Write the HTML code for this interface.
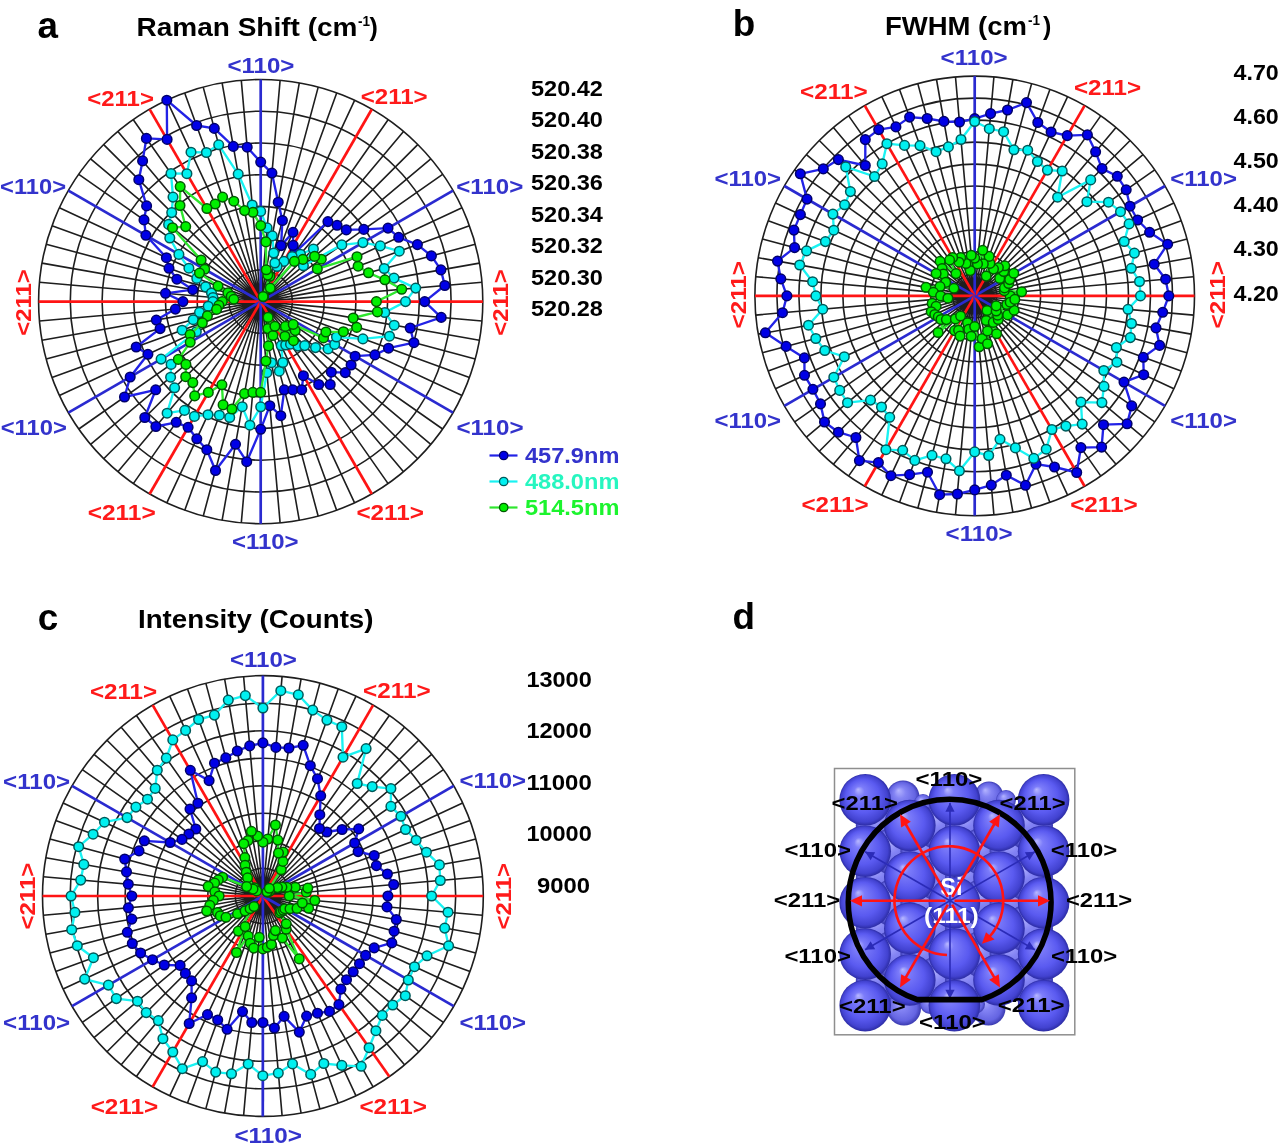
<!DOCTYPE html>
<html lang="en"><head><meta charset="utf-8"><title>Polar Raman figure</title>
<style>html,body{margin:0;padding:0;background:#fff}svg{display:block}text{font-family:'Liberation Sans', Arial, Helvetica, sans-serif;font-weight:bold}</style>
</head><body>
<svg width="1280" height="1148" viewBox="0 0 1280 1148">
<rect width="1280" height="1148" fill="#fff"/>
<g id="pa">
<g fill="none" stroke="#1e1e1e" stroke-width="1.6">
<circle cx="260.7" cy="301.6" r="31.7"/>
<circle cx="260.7" cy="301.6" r="63.5"/>
<circle cx="260.7" cy="301.6" r="95.2"/>
<circle cx="260.7" cy="301.6" r="126.9"/>
<circle cx="260.7" cy="301.6" r="158.6"/>
<circle cx="260.7" cy="301.6" r="190.4"/>
<circle cx="260.7" cy="301.6" r="222.1"/>
<path d="M260.7 301.6L482 282.3M260.7 301.6L479.4 263.1M260.7 301.6L475.2 244.2M260.7 301.6L469.4 225.7M260.7 301.6L462 207.8M260.7 301.6L442.6 174.3M260.7 301.6L430.8 158.9M260.7 301.6L417.7 144.6M260.7 301.6L403.5 131.5M260.7 301.6L388.1 119.7M260.7 301.6L354.6 100.4M260.7 301.6L336.7 92.9M260.7 301.6L318.2 87.1M260.7 301.6L299.3 82.9M260.7 301.6L280.1 80.4M260.7 301.6L241.3 80.4M260.7 301.6L222.1 82.9M260.7 301.6L203.2 87.1M260.7 301.6L184.7 92.9M260.7 301.6L166.8 100.4M260.7 301.6L133.3 119.7M260.7 301.6L117.9 131.5M260.7 301.6L103.7 144.6M260.7 301.6L90.6 158.9M260.7 301.6L78.8 174.3M260.7 301.6L59.4 207.8M260.7 301.6L52 225.7M260.7 301.6L46.2 244.2M260.7 301.6L42 263.1M260.7 301.6L39.4 282.3M260.7 301.6L39.4 321M260.7 301.6L42 340.2M260.7 301.6L46.2 359.1M260.7 301.6L52 377.6M260.7 301.6L59.4 395.5M260.7 301.6L78.8 429M260.7 301.6L90.6 444.4M260.7 301.6L103.7 458.7M260.7 301.6L117.9 471.8M260.7 301.6L133.3 483.6M260.7 301.6L166.8 502.9M260.7 301.6L184.7 510.4M260.7 301.6L203.2 516.2M260.7 301.6L222.1 520.4M260.7 301.6L241.3 522.9M260.7 301.6L280.1 522.9M260.7 301.6L299.3 520.4M260.7 301.6L318.2 516.2M260.7 301.6L336.7 510.4M260.7 301.6L354.6 502.9M260.7 301.6L388.1 483.6M260.7 301.6L403.5 471.8M260.7 301.6L417.7 458.7M260.7 301.6L430.8 444.4M260.7 301.6L442.6 429M260.7 301.6L462 395.5M260.7 301.6L469.4 377.6M260.7 301.6L475.2 359.1M260.7 301.6L479.4 340.2M260.7 301.6L482 321"/>
</g>
<line x1="260.7" y1="301.6" x2="482.8" y2="301.6" stroke="#ff1414" stroke-width="2.7"/>
<line x1="260.7" y1="301.6" x2="453" y2="190.6" stroke="#2a2ad0" stroke-width="2.7"/>
<line x1="260.7" y1="301.6" x2="371.8" y2="109.3" stroke="#ff1414" stroke-width="2.7"/>
<line x1="260.7" y1="301.6" x2="260.7" y2="79.5" stroke="#2a2ad0" stroke-width="2.7"/>
<line x1="260.7" y1="301.6" x2="149.7" y2="109.3" stroke="#ff1414" stroke-width="2.7"/>
<line x1="260.7" y1="301.6" x2="68.4" y2="190.6" stroke="#2a2ad0" stroke-width="2.7"/>
<line x1="260.7" y1="301.6" x2="38.6" y2="301.6" stroke="#ff1414" stroke-width="2.7"/>
<line x1="260.7" y1="301.6" x2="68.4" y2="412.7" stroke="#2a2ad0" stroke-width="2.7"/>
<line x1="260.7" y1="301.6" x2="149.6" y2="494" stroke="#ff1414" stroke-width="2.7"/>
<line x1="260.7" y1="301.6" x2="260.7" y2="523.8" stroke="#2a2ad0" stroke-width="2.7"/>
<line x1="260.7" y1="301.6" x2="371.8" y2="494" stroke="#ff1414" stroke-width="2.7"/>
<line x1="260.7" y1="301.6" x2="453" y2="412.7" stroke="#2a2ad0" stroke-width="2.7"/>
<path d="M424.7 301.6L444.8 285.5L440.9 269.9L431.4 255.9L417.4 244.6L398.7 237.3L388 228.1L363.8 229.4L346.3 229.9L337.1 225.3L327.9 221.6L295.1 252.5L293.2 245.4L293 232.3L281.1 245.6L282.4 220.5L278.2 202.2L271.9 173.1L260.7 162.1L247.2 147.2L233.3 146.4L214.3 128.4L196.6 125.5L166.8 100.2L167.1 139.4L146.4 138.4L142.6 160.9L138.8 179.7L146.6 205.9L144 219.9L145.9 235.3L166.4 257.7L169 268.3L176.9 279.2L192.8 289.7L165.5 293.3L182.9 301.6L175.4 309.1L156.3 320.1L160.1 328.6L136.2 347L147.9 354.3L130.2 377L124.5 397L155.7 389.8L144.8 417.5L155.9 426.5L176.2 422.3L188.1 427.3L196.8 438.8L206.8 449.7L215.5 470.5L235.5 444.3L246.7 461.7L260.7 429.3L269.8 405.7L280.8 415.7L284.3 389.8L292.8 389.9L301.7 389.7L303.4 375.7L318.7 384.5L330.2 384.5L331.3 372.2L345.3 372.6L351.1 365L355.1 356.2L374.9 354.9L388.5 348.2L413.9 342.7L410.2 328L441.2 317.4Z" fill="none" stroke="#2222e6" stroke-width="2.35" stroke-linejoin="round"/>
<g fill="#0000e6" stroke="#00006a" stroke-width="1.5">
<circle cx="424.7" cy="301.6" r="4.8"/>
<circle cx="444.8" cy="285.5" r="4.8"/>
<circle cx="440.9" cy="269.9" r="4.8"/>
<circle cx="431.4" cy="255.9" r="4.8"/>
<circle cx="417.4" cy="244.6" r="4.8"/>
<circle cx="398.7" cy="237.3" r="4.8"/>
<circle cx="388" cy="228.1" r="4.8"/>
<circle cx="363.8" cy="229.4" r="4.8"/>
<circle cx="346.3" cy="229.9" r="4.8"/>
<circle cx="337.1" cy="225.3" r="4.8"/>
<circle cx="327.9" cy="221.6" r="4.8"/>
<circle cx="295.1" cy="252.5" r="4.8"/>
<circle cx="293.2" cy="245.4" r="4.8"/>
<circle cx="293" cy="232.3" r="4.8"/>
<circle cx="281.1" cy="245.6" r="4.8"/>
<circle cx="282.4" cy="220.5" r="4.8"/>
<circle cx="278.2" cy="202.2" r="4.8"/>
<circle cx="271.9" cy="173.1" r="4.8"/>
<circle cx="260.7" cy="162.1" r="4.8"/>
<circle cx="247.2" cy="147.2" r="4.8"/>
<circle cx="233.3" cy="146.4" r="4.8"/>
<circle cx="214.3" cy="128.4" r="4.8"/>
<circle cx="196.6" cy="125.5" r="4.8"/>
<circle cx="166.8" cy="100.2" r="4.8"/>
<circle cx="167.1" cy="139.4" r="4.8"/>
<circle cx="146.4" cy="138.4" r="4.8"/>
<circle cx="142.6" cy="160.9" r="4.8"/>
<circle cx="138.8" cy="179.7" r="4.8"/>
<circle cx="146.6" cy="205.9" r="4.8"/>
<circle cx="144" cy="219.9" r="4.8"/>
<circle cx="145.9" cy="235.3" r="4.8"/>
<circle cx="166.4" cy="257.7" r="4.8"/>
<circle cx="169" cy="268.3" r="4.8"/>
<circle cx="176.9" cy="279.2" r="4.8"/>
<circle cx="192.8" cy="289.7" r="4.8"/>
<circle cx="165.5" cy="293.3" r="4.8"/>
<circle cx="182.9" cy="301.6" r="4.8"/>
<circle cx="175.4" cy="309.1" r="4.8"/>
<circle cx="156.3" cy="320.1" r="4.8"/>
<circle cx="160.1" cy="328.6" r="4.8"/>
<circle cx="136.2" cy="347" r="4.8"/>
<circle cx="147.9" cy="354.3" r="4.8"/>
<circle cx="130.2" cy="377" r="4.8"/>
<circle cx="124.5" cy="397" r="4.8"/>
<circle cx="155.7" cy="389.8" r="4.8"/>
<circle cx="144.8" cy="417.5" r="4.8"/>
<circle cx="155.9" cy="426.5" r="4.8"/>
<circle cx="176.2" cy="422.3" r="4.8"/>
<circle cx="188.1" cy="427.3" r="4.8"/>
<circle cx="196.8" cy="438.8" r="4.8"/>
<circle cx="206.8" cy="449.7" r="4.8"/>
<circle cx="215.5" cy="470.5" r="4.8"/>
<circle cx="235.5" cy="444.3" r="4.8"/>
<circle cx="246.7" cy="461.7" r="4.8"/>
<circle cx="260.7" cy="429.3" r="4.8"/>
<circle cx="269.8" cy="405.7" r="4.8"/>
<circle cx="280.8" cy="415.7" r="4.8"/>
<circle cx="284.3" cy="389.8" r="4.8"/>
<circle cx="292.8" cy="389.9" r="4.8"/>
<circle cx="301.7" cy="389.7" r="4.8"/>
<circle cx="303.4" cy="375.7" r="4.8"/>
<circle cx="318.7" cy="384.5" r="4.8"/>
<circle cx="330.2" cy="384.5" r="4.8"/>
<circle cx="331.3" cy="372.2" r="4.8"/>
<circle cx="345.3" cy="372.6" r="4.8"/>
<circle cx="351.1" cy="365" r="4.8"/>
<circle cx="355.1" cy="356.2" r="4.8"/>
<circle cx="374.9" cy="354.9" r="4.8"/>
<circle cx="388.5" cy="348.2" r="4.8"/>
<circle cx="413.9" cy="342.7" r="4.8"/>
<circle cx="410.2" cy="328" r="4.8"/>
<circle cx="441.2" cy="317.4" r="4.8"/>
</g>
<path d="M405.5 301.6L415.7 288.1L394 278.1L384.2 268.5L399.3 251.2L380.3 245.9L362.9 242.6L341.8 244.9L303.4 265.8L313.4 249L300.5 254.2L292.2 256.6L283.9 261.4L277.1 266.5L274.8 263L273.7 253L272.3 235.9L267.1 227.9L260.7 211.4L252.2 205L238.2 174.1L218.7 144.8L206.4 152.5L191 152.2L186.9 173.7L171 173.5L173 197.1L171.7 212.6L168.6 224.4L169.8 238L178.9 254.4L188.9 268.2L196.8 278.4L205.6 286.9L211.5 293L213 297.5L212.9 301.6L208.2 306.2L199.5 312.4L193.2 319.7L182.1 330.2L196.3 331.7L161.1 359.1L171.1 364.4L170.6 377.2L174.6 387.8L167.1 413.2L184.5 410.4L194.4 416.4L208 414.7L219.4 415.2L229.7 417.5L242.2 406.7L249.9 425.2L260.7 406.8L266.9 372.7L271.5 362.7L279.3 371.2L282.9 362.5L281.2 345.6L285.7 345L290.5 344.2L298 346.1L304.7 345.6L315.5 347.6L328.1 348.9L334.7 344.4L336.5 337L362.9 338.9L389.5 336.2L394.2 325.2L384.8 312.5Z" fill="none" stroke="#19f2f2" stroke-width="2.35" stroke-linejoin="round"/>
<g fill="#00f0f0" stroke="#005a5a" stroke-width="1.5">
<circle cx="405.5" cy="301.6" r="4.8"/>
<circle cx="415.7" cy="288.1" r="4.8"/>
<circle cx="394" cy="278.1" r="4.8"/>
<circle cx="384.2" cy="268.5" r="4.8"/>
<circle cx="399.3" cy="251.2" r="4.8"/>
<circle cx="380.3" cy="245.9" r="4.8"/>
<circle cx="362.9" cy="242.6" r="4.8"/>
<circle cx="341.8" cy="244.9" r="4.8"/>
<circle cx="303.4" cy="265.8" r="4.8"/>
<circle cx="313.4" cy="249" r="4.8"/>
<circle cx="300.5" cy="254.2" r="4.8"/>
<circle cx="292.2" cy="256.6" r="4.8"/>
<circle cx="283.9" cy="261.4" r="4.8"/>
<circle cx="277.1" cy="266.5" r="4.8"/>
<circle cx="274.8" cy="263" r="4.8"/>
<circle cx="273.7" cy="253" r="4.8"/>
<circle cx="272.3" cy="235.9" r="4.8"/>
<circle cx="267.1" cy="227.9" r="4.8"/>
<circle cx="260.7" cy="211.4" r="4.8"/>
<circle cx="252.2" cy="205" r="4.8"/>
<circle cx="238.2" cy="174.1" r="4.8"/>
<circle cx="218.7" cy="144.8" r="4.8"/>
<circle cx="206.4" cy="152.5" r="4.8"/>
<circle cx="191" cy="152.2" r="4.8"/>
<circle cx="186.9" cy="173.7" r="4.8"/>
<circle cx="171" cy="173.5" r="4.8"/>
<circle cx="173" cy="197.1" r="4.8"/>
<circle cx="171.7" cy="212.6" r="4.8"/>
<circle cx="168.6" cy="224.4" r="4.8"/>
<circle cx="169.8" cy="238" r="4.8"/>
<circle cx="178.9" cy="254.4" r="4.8"/>
<circle cx="188.9" cy="268.2" r="4.8"/>
<circle cx="196.8" cy="278.4" r="4.8"/>
<circle cx="205.6" cy="286.9" r="4.8"/>
<circle cx="211.5" cy="293" r="4.8"/>
<circle cx="213" cy="297.5" r="4.8"/>
<circle cx="212.9" cy="301.6" r="4.8"/>
<circle cx="208.2" cy="306.2" r="4.8"/>
<circle cx="199.5" cy="312.4" r="4.8"/>
<circle cx="193.2" cy="319.7" r="4.8"/>
<circle cx="182.1" cy="330.2" r="4.8"/>
<circle cx="196.3" cy="331.7" r="4.8"/>
<circle cx="161.1" cy="359.1" r="4.8"/>
<circle cx="171.1" cy="364.4" r="4.8"/>
<circle cx="170.6" cy="377.2" r="4.8"/>
<circle cx="174.6" cy="387.8" r="4.8"/>
<circle cx="167.1" cy="413.2" r="4.8"/>
<circle cx="184.5" cy="410.4" r="4.8"/>
<circle cx="194.4" cy="416.4" r="4.8"/>
<circle cx="208" cy="414.7" r="4.8"/>
<circle cx="219.4" cy="415.2" r="4.8"/>
<circle cx="229.7" cy="417.5" r="4.8"/>
<circle cx="242.2" cy="406.7" r="4.8"/>
<circle cx="249.9" cy="425.2" r="4.8"/>
<circle cx="260.7" cy="406.8" r="4.8"/>
<circle cx="266.9" cy="372.7" r="4.8"/>
<circle cx="271.5" cy="362.7" r="4.8"/>
<circle cx="279.3" cy="371.2" r="4.8"/>
<circle cx="282.9" cy="362.5" r="4.8"/>
<circle cx="281.2" cy="345.6" r="4.8"/>
<circle cx="285.7" cy="345" r="4.8"/>
<circle cx="290.5" cy="344.2" r="4.8"/>
<circle cx="298" cy="346.1" r="4.8"/>
<circle cx="304.7" cy="345.6" r="4.8"/>
<circle cx="315.5" cy="347.6" r="4.8"/>
<circle cx="328.1" cy="348.9" r="4.8"/>
<circle cx="334.7" cy="344.4" r="4.8"/>
<circle cx="336.5" cy="337" r="4.8"/>
<circle cx="362.9" cy="338.9" r="4.8"/>
<circle cx="389.5" cy="336.2" r="4.8"/>
<circle cx="394.2" cy="325.2" r="4.8"/>
<circle cx="384.8" cy="312.5" r="4.8"/>
</g>
<path d="M376.4 301.6L401.7 289.3L384.9 279.8L368.5 272.8L358.1 266.2L357 256.7L317.3 268.9L321.3 259.2L314.6 256.4L302.9 259.4L294.4 261.4L270.2 288.1L263.6 296.7L263.1 296.5L269.9 276.3L267.8 275.1L266.3 269.8L265.9 241.9L260.7 225.6L252.9 212.3L244.6 210.6L233.8 201.2L222.6 197.1L215.2 204L206.9 208.5L180.2 186.6L180 205.5L185.7 226.6L172.5 227.7L201.1 260L204.7 269.3L199.5 273.1L218 286.1L227.9 292.9L231.2 296.4L233.8 299.3L222.3 301.6L218.9 305.3L216.6 309.4L207.4 315.9L202.3 322.9L190.1 334.6L190.2 342.3L178.3 359.4L185.9 364.4L185.7 376.7L192.8 382.6L194.7 395.9L208.3 392.4L221.9 384.8L223.1 404.9L231.9 409L244.5 393.6L252.8 392.4L260.7 392.4L265.9 361.1L268.5 345.9L267.9 328.6L273 335.5L268.1 317.4L274.9 326.3L284.9 336.2L293.5 340.7L285.4 326.4L295.2 330.6L293.2 324.4L323.5 337.9L325.9 332L343.4 331.7L356.7 327.4L353.2 318L377.4 311.9Z" fill="none" stroke="#2ee62e" stroke-width="2.35" stroke-linejoin="round"/>
<g fill="#00f000" stroke="#005a00" stroke-width="1.5">
<circle cx="376.4" cy="301.6" r="4.8"/>
<circle cx="401.7" cy="289.3" r="4.8"/>
<circle cx="384.9" cy="279.8" r="4.8"/>
<circle cx="368.5" cy="272.8" r="4.8"/>
<circle cx="358.1" cy="266.2" r="4.8"/>
<circle cx="357" cy="256.7" r="4.8"/>
<circle cx="317.3" cy="268.9" r="4.8"/>
<circle cx="321.3" cy="259.2" r="4.8"/>
<circle cx="314.6" cy="256.4" r="4.8"/>
<circle cx="302.9" cy="259.4" r="4.8"/>
<circle cx="294.4" cy="261.4" r="4.8"/>
<circle cx="270.2" cy="288.1" r="4.8"/>
<circle cx="263.6" cy="296.7" r="4.8"/>
<circle cx="263.1" cy="296.5" r="4.8"/>
<circle cx="269.9" cy="276.3" r="4.8"/>
<circle cx="267.8" cy="275.1" r="4.8"/>
<circle cx="266.3" cy="269.8" r="4.8"/>
<circle cx="265.9" cy="241.9" r="4.8"/>
<circle cx="260.7" cy="225.6" r="4.8"/>
<circle cx="252.9" cy="212.3" r="4.8"/>
<circle cx="244.6" cy="210.6" r="4.8"/>
<circle cx="233.8" cy="201.2" r="4.8"/>
<circle cx="222.6" cy="197.1" r="4.8"/>
<circle cx="215.2" cy="204" r="4.8"/>
<circle cx="206.9" cy="208.5" r="4.8"/>
<circle cx="180.2" cy="186.6" r="4.8"/>
<circle cx="180" cy="205.5" r="4.8"/>
<circle cx="185.7" cy="226.6" r="4.8"/>
<circle cx="172.5" cy="227.7" r="4.8"/>
<circle cx="201.1" cy="260" r="4.8"/>
<circle cx="204.7" cy="269.3" r="4.8"/>
<circle cx="199.5" cy="273.1" r="4.8"/>
<circle cx="218" cy="286.1" r="4.8"/>
<circle cx="227.9" cy="292.9" r="4.8"/>
<circle cx="231.2" cy="296.4" r="4.8"/>
<circle cx="233.8" cy="299.3" r="4.8"/>
<circle cx="222.3" cy="301.6" r="4.8"/>
<circle cx="218.9" cy="305.3" r="4.8"/>
<circle cx="216.6" cy="309.4" r="4.8"/>
<circle cx="207.4" cy="315.9" r="4.8"/>
<circle cx="202.3" cy="322.9" r="4.8"/>
<circle cx="190.1" cy="334.6" r="4.8"/>
<circle cx="190.2" cy="342.3" r="4.8"/>
<circle cx="178.3" cy="359.4" r="4.8"/>
<circle cx="185.9" cy="364.4" r="4.8"/>
<circle cx="185.7" cy="376.7" r="4.8"/>
<circle cx="192.8" cy="382.6" r="4.8"/>
<circle cx="194.7" cy="395.9" r="4.8"/>
<circle cx="208.3" cy="392.4" r="4.8"/>
<circle cx="221.9" cy="384.8" r="4.8"/>
<circle cx="223.1" cy="404.9" r="4.8"/>
<circle cx="231.9" cy="409" r="4.8"/>
<circle cx="244.5" cy="393.6" r="4.8"/>
<circle cx="252.8" cy="392.4" r="4.8"/>
<circle cx="260.7" cy="392.4" r="4.8"/>
<circle cx="265.9" cy="361.1" r="4.8"/>
<circle cx="268.5" cy="345.9" r="4.8"/>
<circle cx="267.9" cy="328.6" r="4.8"/>
<circle cx="273" cy="335.5" r="4.8"/>
<circle cx="268.1" cy="317.4" r="4.8"/>
<circle cx="274.9" cy="326.3" r="4.8"/>
<circle cx="284.9" cy="336.2" r="4.8"/>
<circle cx="293.5" cy="340.7" r="4.8"/>
<circle cx="285.4" cy="326.4" r="4.8"/>
<circle cx="295.2" cy="330.6" r="4.8"/>
<circle cx="293.2" cy="324.4" r="4.8"/>
<circle cx="323.5" cy="337.9" r="4.8"/>
<circle cx="325.9" cy="332" r="4.8"/>
<circle cx="343.4" cy="331.7" r="4.8"/>
<circle cx="356.7" cy="327.4" r="4.8"/>
<circle cx="353.2" cy="318" r="4.8"/>
<circle cx="377.4" cy="311.9" r="4.8"/>
</g>
</g>
<text x="37.6" y="38" font-size="36.8" fill="#000">a</text>
<text x="136.5" y="35.6" font-size="25" fill="#000" textLength="221" lengthAdjust="spacingAndGlyphs">Raman Shift (cm</text>
<text x="358" y="26.1" font-size="15" fill="#000" textLength="12" lengthAdjust="spacingAndGlyphs">-1</text>
<text x="369.5" y="35.6" font-size="25" fill="#000">)</text>
<text x="227.5" y="72.5" font-size="22.5" fill="#3333cc" textLength="66.9" lengthAdjust="spacingAndGlyphs">&lt;110&gt;</text>
<text x="87.3" y="105.5" font-size="22.5" fill="#ff1a1a" textLength="66.6" lengthAdjust="spacingAndGlyphs">&lt;211&gt;</text>
<text x="360.7" y="103.6" font-size="22.5" fill="#ff1a1a" textLength="67" lengthAdjust="spacingAndGlyphs">&lt;211&gt;</text>
<text x="0.1" y="193.5" font-size="22.5" fill="#3333cc" textLength="65.9" lengthAdjust="spacingAndGlyphs">&lt;110&gt;</text>
<text x="456.3" y="193.5" font-size="22.5" fill="#3333cc" textLength="67" lengthAdjust="spacingAndGlyphs">&lt;110&gt;</text>
<text x="31.2" y="335.8" font-size="22.5" fill="#ff1a1a" textLength="66.6" lengthAdjust="spacingAndGlyphs" transform="rotate(-90 31.2 335.8)">&lt;211&gt;</text>
<text x="508.2" y="335.8" font-size="22.5" fill="#ff1a1a" textLength="66.6" lengthAdjust="spacingAndGlyphs" transform="rotate(-90 508.2 335.8)">&lt;211&gt;</text>
<text x="0.7" y="435" font-size="22.5" fill="#3333cc" textLength="66.2" lengthAdjust="spacingAndGlyphs">&lt;110&gt;</text>
<text x="456.4" y="435" font-size="22.5" fill="#3333cc" textLength="67.2" lengthAdjust="spacingAndGlyphs">&lt;110&gt;</text>
<text x="87.7" y="520" font-size="22.5" fill="#ff1a1a" textLength="68" lengthAdjust="spacingAndGlyphs">&lt;211&gt;</text>
<text x="356.4" y="520" font-size="22.5" fill="#ff1a1a" textLength="67.5" lengthAdjust="spacingAndGlyphs">&lt;211&gt;</text>
<text x="231.9" y="548.5" font-size="22.5" fill="#3333cc" textLength="66.7" lengthAdjust="spacingAndGlyphs">&lt;110&gt;</text>
<text x="531" y="96" font-size="22.5" fill="#000" textLength="71.9" lengthAdjust="spacingAndGlyphs">520.42</text>
<text x="531" y="127.4" font-size="22.5" fill="#000" textLength="71.9" lengthAdjust="spacingAndGlyphs">520.40</text>
<text x="531" y="158.9" font-size="22.5" fill="#000" textLength="71.9" lengthAdjust="spacingAndGlyphs">520.38</text>
<text x="531" y="190.3" font-size="22.5" fill="#000" textLength="71.9" lengthAdjust="spacingAndGlyphs">520.36</text>
<text x="531" y="221.7" font-size="22.5" fill="#000" textLength="71.9" lengthAdjust="spacingAndGlyphs">520.34</text>
<text x="531" y="253.2" font-size="22.5" fill="#000" textLength="71.9" lengthAdjust="spacingAndGlyphs">520.32</text>
<text x="531" y="284.6" font-size="22.5" fill="#000" textLength="71.9" lengthAdjust="spacingAndGlyphs">520.30</text>
<text x="531" y="316" font-size="22.5" fill="#000" textLength="71.9" lengthAdjust="spacingAndGlyphs">520.28</text>
<line x1="489.5" y1="455.5" x2="517.5" y2="455.5" stroke="#2222e6" stroke-width="2.2"/>
<circle cx="503.7" cy="455.5" r="4.2" fill="#0000e6" stroke="#00006a" stroke-width="1.3"/>
<text x="524.9" y="462.8" font-size="22.5" fill="#3333cc" textLength="94.5" lengthAdjust="spacingAndGlyphs">457.9nm</text>
<line x1="489.5" y1="481.5" x2="517.5" y2="481.5" stroke="#19f2f2" stroke-width="2.2"/>
<circle cx="503.7" cy="481.5" r="4.2" fill="#00f0f0" stroke="#005a5a" stroke-width="1.3"/>
<text x="524.9" y="488.7" font-size="22.5" fill="#26f6c0" textLength="94.5" lengthAdjust="spacingAndGlyphs">488.0nm</text>
<line x1="489.5" y1="507.5" x2="517.5" y2="507.5" stroke="#2ee62e" stroke-width="2.2"/>
<circle cx="503.7" cy="507.5" r="4.2" fill="#00f000" stroke="#005a00" stroke-width="1.3"/>
<text x="524.9" y="514.5" font-size="22.5" fill="#1cf42e" textLength="94.5" lengthAdjust="spacingAndGlyphs">514.5nm</text>
<g id="pb">
<g fill="none" stroke="#1e1e1e" stroke-width="1.6">
<circle cx="974.7" cy="295.9" r="22"/>
<circle cx="974.7" cy="295.9" r="44"/>
<circle cx="974.7" cy="295.9" r="65.9"/>
<circle cx="974.7" cy="295.9" r="87.9"/>
<circle cx="974.7" cy="295.9" r="109.9"/>
<circle cx="974.7" cy="295.9" r="131.8"/>
<circle cx="974.7" cy="295.9" r="153.8"/>
<circle cx="974.7" cy="295.9" r="175.8"/>
<circle cx="974.7" cy="295.9" r="197.8"/>
<circle cx="974.7" cy="295.9" r="219.8"/>
<path d="M974.7 295.9L1193.6 276.7M974.7 295.9L1191.1 257.7M974.7 295.9L1187 239M974.7 295.9L1181.2 220.7M974.7 295.9L1173.9 203M974.7 295.9L1154.7 169.9M974.7 295.9L1143 154.6M974.7 295.9L1130.1 140.5M974.7 295.9L1116 127.6M974.7 295.9L1100.7 115.9M974.7 295.9L1067.6 96.7M974.7 295.9L1049.9 89.4M974.7 295.9L1031.6 83.6M974.7 295.9L1012.9 79.5M974.7 295.9L993.9 77M974.7 295.9L955.5 77M974.7 295.9L936.5 79.5M974.7 295.9L917.8 83.6M974.7 295.9L899.5 89.4M974.7 295.9L881.8 96.7M974.7 295.9L848.7 115.9M974.7 295.9L833.4 127.6M974.7 295.9L819.3 140.5M974.7 295.9L806.4 154.6M974.7 295.9L794.7 169.9M974.7 295.9L775.5 203M974.7 295.9L768.2 220.7M974.7 295.9L762.4 239M974.7 295.9L758.3 257.7M974.7 295.9L755.8 276.7M974.7 295.9L755.8 315.1M974.7 295.9L758.3 334.1M974.7 295.9L762.4 352.8M974.7 295.9L768.2 371.1M974.7 295.9L775.5 388.8M974.7 295.9L794.7 421.9M974.7 295.9L806.4 437.2M974.7 295.9L819.3 451.3M974.7 295.9L833.4 464.2M974.7 295.9L848.7 475.9M974.7 295.9L881.8 495.1M974.7 295.9L899.5 502.4M974.7 295.9L917.8 508.2M974.7 295.9L936.5 512.3M974.7 295.9L955.5 514.8M974.7 295.9L993.9 514.8M974.7 295.9L1012.9 512.3M974.7 295.9L1031.6 508.2M974.7 295.9L1049.9 502.4M974.7 295.9L1067.6 495.1M974.7 295.9L1100.7 475.9M974.7 295.9L1116 464.2M974.7 295.9L1130.1 451.3M974.7 295.9L1143 437.2M974.7 295.9L1154.7 421.9M974.7 295.9L1173.9 388.8M974.7 295.9L1181.2 371.1M974.7 295.9L1187 352.8M974.7 295.9L1191.1 334.1M974.7 295.9L1193.6 315.1"/>
</g>
<line x1="974.7" y1="295.9" x2="1194.5" y2="295.9" stroke="#ff1414" stroke-width="2.7"/>
<line x1="974.7" y1="295.9" x2="1165" y2="186" stroke="#2a2ad0" stroke-width="2.7"/>
<line x1="974.7" y1="295.9" x2="1084.6" y2="105.6" stroke="#ff1414" stroke-width="2.7"/>
<line x1="974.7" y1="295.9" x2="974.7" y2="76.1" stroke="#2a2ad0" stroke-width="2.7"/>
<line x1="974.7" y1="295.9" x2="864.8" y2="105.6" stroke="#ff1414" stroke-width="2.7"/>
<line x1="974.7" y1="295.9" x2="784.4" y2="186" stroke="#2a2ad0" stroke-width="2.7"/>
<line x1="974.7" y1="295.9" x2="755" y2="295.9" stroke="#ff1414" stroke-width="2.7"/>
<line x1="974.7" y1="295.9" x2="784.4" y2="405.8" stroke="#2a2ad0" stroke-width="2.7"/>
<line x1="974.7" y1="295.9" x2="864.8" y2="486.2" stroke="#ff1414" stroke-width="2.7"/>
<line x1="974.7" y1="295.9" x2="974.7" y2="515.6" stroke="#2a2ad0" stroke-width="2.7"/>
<line x1="974.7" y1="295.9" x2="1084.6" y2="486.2" stroke="#ff1414" stroke-width="2.7"/>
<line x1="974.7" y1="295.9" x2="1165" y2="405.8" stroke="#2a2ad0" stroke-width="2.7"/>
<path d="M1168.8 295.9L1165.6 279.2L1154.2 264.2L1167.6 244.2L1149.6 232.3L1137.6 220L1130 206.2L1126.2 189.8L1117.3 176.3L1102 168.6L1095.6 151.8L1087.4 134.9L1067.2 135.6L1051.1 132L1037.8 122.5L1026.5 102.6L1007.5 110L990.6 113.6L974.7 118.6L959.5 122L943.9 121.4L927.2 118.5L909.6 117.1L895.9 126.9L878.7 129.6L865.3 139.6L865.3 165.5L838.4 159.6L823.3 168.9L800.3 173.8L807 199.1L800.4 214.6L793.9 230.1L794.6 247.6L777.5 261.1L780.8 278.9L786.9 295.9L782.5 312.7L765.4 332.8L786.1 346.4L804.4 357.9L804.5 375.3L812.9 389.3L820.5 403.9L824.5 422L838.4 432.2L855.9 437.5L859.4 460.6L878.4 462.6L890.9 475.7L909.6 474.6L927.5 472.2L939.6 494.7L957.4 494L974.7 489.9L991.3 485.1L1006.3 475.2L1025.5 485.3L1036 464.2L1054.5 467L1076.7 472.5L1080.9 447.6L1101.6 447.1L1103.5 424.7L1127.1 423.8L1131.7 405.9L1124 382.1L1143.7 374.7L1143.3 357.3L1159.6 345.4L1156 327.9L1162.7 312.3Z" fill="none" stroke="#2222e6" stroke-width="2.35" stroke-linejoin="round"/>
<g fill="#0000e6" stroke="#00006a" stroke-width="1.5">
<circle cx="1168.8" cy="295.9" r="4.8"/>
<circle cx="1165.6" cy="279.2" r="4.8"/>
<circle cx="1154.2" cy="264.2" r="4.8"/>
<circle cx="1167.6" cy="244.2" r="4.8"/>
<circle cx="1149.6" cy="232.3" r="4.8"/>
<circle cx="1137.6" cy="220" r="4.8"/>
<circle cx="1130" cy="206.2" r="4.8"/>
<circle cx="1126.2" cy="189.8" r="4.8"/>
<circle cx="1117.3" cy="176.3" r="4.8"/>
<circle cx="1102" cy="168.6" r="4.8"/>
<circle cx="1095.6" cy="151.8" r="4.8"/>
<circle cx="1087.4" cy="134.9" r="4.8"/>
<circle cx="1067.2" cy="135.6" r="4.8"/>
<circle cx="1051.1" cy="132" r="4.8"/>
<circle cx="1037.8" cy="122.5" r="4.8"/>
<circle cx="1026.5" cy="102.6" r="4.8"/>
<circle cx="1007.5" cy="110" r="4.8"/>
<circle cx="990.6" cy="113.6" r="4.8"/>
<circle cx="974.7" cy="118.6" r="4.8"/>
<circle cx="959.5" cy="122" r="4.8"/>
<circle cx="943.9" cy="121.4" r="4.8"/>
<circle cx="927.2" cy="118.5" r="4.8"/>
<circle cx="909.6" cy="117.1" r="4.8"/>
<circle cx="895.9" cy="126.9" r="4.8"/>
<circle cx="878.7" cy="129.6" r="4.8"/>
<circle cx="865.3" cy="139.6" r="4.8"/>
<circle cx="865.3" cy="165.5" r="4.8"/>
<circle cx="838.4" cy="159.6" r="4.8"/>
<circle cx="823.3" cy="168.9" r="4.8"/>
<circle cx="800.3" cy="173.8" r="4.8"/>
<circle cx="807" cy="199.1" r="4.8"/>
<circle cx="800.4" cy="214.6" r="4.8"/>
<circle cx="793.9" cy="230.1" r="4.8"/>
<circle cx="794.6" cy="247.6" r="4.8"/>
<circle cx="777.5" cy="261.1" r="4.8"/>
<circle cx="780.8" cy="278.9" r="4.8"/>
<circle cx="786.9" cy="295.9" r="4.8"/>
<circle cx="782.5" cy="312.7" r="4.8"/>
<circle cx="765.4" cy="332.8" r="4.8"/>
<circle cx="786.1" cy="346.4" r="4.8"/>
<circle cx="804.4" cy="357.9" r="4.8"/>
<circle cx="804.5" cy="375.3" r="4.8"/>
<circle cx="812.9" cy="389.3" r="4.8"/>
<circle cx="820.5" cy="403.9" r="4.8"/>
<circle cx="824.5" cy="422" r="4.8"/>
<circle cx="838.4" cy="432.2" r="4.8"/>
<circle cx="855.9" cy="437.5" r="4.8"/>
<circle cx="859.4" cy="460.6" r="4.8"/>
<circle cx="878.4" cy="462.6" r="4.8"/>
<circle cx="890.9" cy="475.7" r="4.8"/>
<circle cx="909.6" cy="474.6" r="4.8"/>
<circle cx="927.5" cy="472.2" r="4.8"/>
<circle cx="939.6" cy="494.7" r="4.8"/>
<circle cx="957.4" cy="494" r="4.8"/>
<circle cx="974.7" cy="489.9" r="4.8"/>
<circle cx="991.3" cy="485.1" r="4.8"/>
<circle cx="1006.3" cy="475.2" r="4.8"/>
<circle cx="1025.5" cy="485.3" r="4.8"/>
<circle cx="1036" cy="464.2" r="4.8"/>
<circle cx="1054.5" cy="467" r="4.8"/>
<circle cx="1076.7" cy="472.5" r="4.8"/>
<circle cx="1080.9" cy="447.6" r="4.8"/>
<circle cx="1101.6" cy="447.1" r="4.8"/>
<circle cx="1103.5" cy="424.7" r="4.8"/>
<circle cx="1127.1" cy="423.8" r="4.8"/>
<circle cx="1131.7" cy="405.9" r="4.8"/>
<circle cx="1124" cy="382.1" r="4.8"/>
<circle cx="1143.7" cy="374.7" r="4.8"/>
<circle cx="1143.3" cy="357.3" r="4.8"/>
<circle cx="1159.6" cy="345.4" r="4.8"/>
<circle cx="1156" cy="327.9" r="4.8"/>
<circle cx="1162.7" cy="312.3" r="4.8"/>
</g>
<path d="M1140.5 295.9L1139.5 281.5L1131.3 268.3L1134.4 253.1L1124.2 241.5L1129.1 223.9L1120.5 211.7L1108.5 202.2L1086.9 201.7L1090.7 179.9L1057.6 197.2L1062.2 171L1047.4 170.1L1037.4 161.5L1027.7 150.2L1013.9 149.8L1003.6 131.7L989.3 128.7L974.7 121.5L961 139.5L948.4 146.9L936.1 151.7L920 145.6L904.5 145.4L886.9 143.7L882.2 163.9L874.5 176.5L845.7 166.9L850.4 191.6L844.6 204.8L832.9 214.1L833.8 230.2L825.4 241.6L806.6 250.9L799.7 265L812.6 281.7L815.9 295.9L822.7 309.2L808.5 325.2L815.8 338.5L824.8 350.5L844.3 356.7L833.8 377.2L839.7 390.4L847.5 402.7L870.5 400.1L881.5 407L889.7 417.3L885.9 449.7L902.7 450.3L914.8 460.4L932 455.3L946 458.8L959.4 470.8L974.7 451.9L988.7 455.5L1000 439.3L1015.4 447.9L1033.8 458.4L1046.2 449.2L1051.9 429.5L1065.9 426.1L1082.2 424.1L1080.9 402.1L1101.9 402.6L1104 386.4L1103.8 370.5L1116.9 362.2L1116.4 347.5L1130.3 337.6L1131.5 323.5L1128 309.3Z" fill="none" stroke="#19f2f2" stroke-width="2.35" stroke-linejoin="round"/>
<g fill="#00f0f0" stroke="#005a5a" stroke-width="1.5">
<circle cx="1140.5" cy="295.9" r="4.8"/>
<circle cx="1139.5" cy="281.5" r="4.8"/>
<circle cx="1131.3" cy="268.3" r="4.8"/>
<circle cx="1134.4" cy="253.1" r="4.8"/>
<circle cx="1124.2" cy="241.5" r="4.8"/>
<circle cx="1129.1" cy="223.9" r="4.8"/>
<circle cx="1120.5" cy="211.7" r="4.8"/>
<circle cx="1108.5" cy="202.2" r="4.8"/>
<circle cx="1086.9" cy="201.7" r="4.8"/>
<circle cx="1090.7" cy="179.9" r="4.8"/>
<circle cx="1057.6" cy="197.2" r="4.8"/>
<circle cx="1062.2" cy="171" r="4.8"/>
<circle cx="1047.4" cy="170.1" r="4.8"/>
<circle cx="1037.4" cy="161.5" r="4.8"/>
<circle cx="1027.7" cy="150.2" r="4.8"/>
<circle cx="1013.9" cy="149.8" r="4.8"/>
<circle cx="1003.6" cy="131.7" r="4.8"/>
<circle cx="989.3" cy="128.7" r="4.8"/>
<circle cx="974.7" cy="121.5" r="4.8"/>
<circle cx="961" cy="139.5" r="4.8"/>
<circle cx="948.4" cy="146.9" r="4.8"/>
<circle cx="936.1" cy="151.7" r="4.8"/>
<circle cx="920" cy="145.6" r="4.8"/>
<circle cx="904.5" cy="145.4" r="4.8"/>
<circle cx="886.9" cy="143.7" r="4.8"/>
<circle cx="882.2" cy="163.9" r="4.8"/>
<circle cx="874.5" cy="176.5" r="4.8"/>
<circle cx="845.7" cy="166.9" r="4.8"/>
<circle cx="850.4" cy="191.6" r="4.8"/>
<circle cx="844.6" cy="204.8" r="4.8"/>
<circle cx="832.9" cy="214.1" r="4.8"/>
<circle cx="833.8" cy="230.2" r="4.8"/>
<circle cx="825.4" cy="241.6" r="4.8"/>
<circle cx="806.6" cy="250.9" r="4.8"/>
<circle cx="799.7" cy="265" r="4.8"/>
<circle cx="812.6" cy="281.7" r="4.8"/>
<circle cx="815.9" cy="295.9" r="4.8"/>
<circle cx="822.7" cy="309.2" r="4.8"/>
<circle cx="808.5" cy="325.2" r="4.8"/>
<circle cx="815.8" cy="338.5" r="4.8"/>
<circle cx="824.8" cy="350.5" r="4.8"/>
<circle cx="844.3" cy="356.7" r="4.8"/>
<circle cx="833.8" cy="377.2" r="4.8"/>
<circle cx="839.7" cy="390.4" r="4.8"/>
<circle cx="847.5" cy="402.7" r="4.8"/>
<circle cx="870.5" cy="400.1" r="4.8"/>
<circle cx="881.5" cy="407" r="4.8"/>
<circle cx="889.7" cy="417.3" r="4.8"/>
<circle cx="885.9" cy="449.7" r="4.8"/>
<circle cx="902.7" cy="450.3" r="4.8"/>
<circle cx="914.8" cy="460.4" r="4.8"/>
<circle cx="932" cy="455.3" r="4.8"/>
<circle cx="946" cy="458.8" r="4.8"/>
<circle cx="959.4" cy="470.8" r="4.8"/>
<circle cx="974.7" cy="451.9" r="4.8"/>
<circle cx="988.7" cy="455.5" r="4.8"/>
<circle cx="1000" cy="439.3" r="4.8"/>
<circle cx="1015.4" cy="447.9" r="4.8"/>
<circle cx="1033.8" cy="458.4" r="4.8"/>
<circle cx="1046.2" cy="449.2" r="4.8"/>
<circle cx="1051.9" cy="429.5" r="4.8"/>
<circle cx="1065.9" cy="426.1" r="4.8"/>
<circle cx="1082.2" cy="424.1" r="4.8"/>
<circle cx="1080.9" cy="402.1" r="4.8"/>
<circle cx="1101.9" cy="402.6" r="4.8"/>
<circle cx="1104" cy="386.4" r="4.8"/>
<circle cx="1103.8" cy="370.5" r="4.8"/>
<circle cx="1116.9" cy="362.2" r="4.8"/>
<circle cx="1116.4" cy="347.5" r="4.8"/>
<circle cx="1130.3" cy="337.6" r="4.8"/>
<circle cx="1131.5" cy="323.5" r="4.8"/>
<circle cx="1128" cy="309.3" r="4.8"/>
</g>
<path d="M1010.1 295.9L1021.6 291.8L1004.3 290.7L1004.5 287.9L1008.7 283.5L1009.7 279.6L1013.8 273.3L999.7 278.4L1003.7 271.5L1004.8 265.8L998.4 267.6L993.5 269.1L986.2 276.1L989.9 263.4L989.1 256.4L983.3 263.9L982.7 250.3L977.5 263.9L974.7 258.1L971.2 255.4L970.2 270.6L966 263.5L960.7 257.5L959 262.2L952.6 257.5L949.6 260.1L956 273.6L940.1 261.3L942.1 268.5L943.4 274L936.1 273.6L945.7 282.4L953.9 288.3L940 286.6L926 287.3L933.4 292.3L940.6 295.9L947.9 298.2L932.2 303.4L936.1 306.3L931.2 311.7L934.8 314.5L938.3 316.9L941 319.5L946.4 319.6L938.1 332.5L955.4 318.9L960.6 316L954.6 330.6L958.6 330.3L960.1 336.1L967.5 322.8L968.8 329.4L971.2 336.3L974.7 326.5L979.2 346.8L982.2 338.5L987.5 343.8L987.5 331L986.2 320.5L996.6 333.8L993.3 322.4L987 310.5L998.3 319.5L997.7 315.2L996.2 311L1007.7 314.9L996.2 305.9L1014.1 310.2L1006.8 304.5L1010.2 302.2L1014.8 299.4Z" fill="none" stroke="#2ee62e" stroke-width="2.35" stroke-linejoin="round"/>
<g fill="#00f000" stroke="#005a00" stroke-width="1.5">
<circle cx="1010.1" cy="295.9" r="4.8"/>
<circle cx="1021.6" cy="291.8" r="4.8"/>
<circle cx="1004.3" cy="290.7" r="4.8"/>
<circle cx="1004.5" cy="287.9" r="4.8"/>
<circle cx="1008.7" cy="283.5" r="4.8"/>
<circle cx="1009.7" cy="279.6" r="4.8"/>
<circle cx="1013.8" cy="273.3" r="4.8"/>
<circle cx="999.7" cy="278.4" r="4.8"/>
<circle cx="1003.7" cy="271.5" r="4.8"/>
<circle cx="1004.8" cy="265.8" r="4.8"/>
<circle cx="998.4" cy="267.6" r="4.8"/>
<circle cx="993.5" cy="269.1" r="4.8"/>
<circle cx="986.2" cy="276.1" r="4.8"/>
<circle cx="989.9" cy="263.4" r="4.8"/>
<circle cx="989.1" cy="256.4" r="4.8"/>
<circle cx="983.3" cy="263.9" r="4.8"/>
<circle cx="982.7" cy="250.3" r="4.8"/>
<circle cx="977.5" cy="263.9" r="4.8"/>
<circle cx="974.7" cy="258.1" r="4.8"/>
<circle cx="971.2" cy="255.4" r="4.8"/>
<circle cx="970.2" cy="270.6" r="4.8"/>
<circle cx="966" cy="263.5" r="4.8"/>
<circle cx="960.7" cy="257.5" r="4.8"/>
<circle cx="959" cy="262.2" r="4.8"/>
<circle cx="952.6" cy="257.5" r="4.8"/>
<circle cx="949.6" cy="260.1" r="4.8"/>
<circle cx="956" cy="273.6" r="4.8"/>
<circle cx="940.1" cy="261.3" r="4.8"/>
<circle cx="942.1" cy="268.5" r="4.8"/>
<circle cx="943.4" cy="274" r="4.8"/>
<circle cx="936.1" cy="273.6" r="4.8"/>
<circle cx="945.7" cy="282.4" r="4.8"/>
<circle cx="953.9" cy="288.3" r="4.8"/>
<circle cx="940" cy="286.6" r="4.8"/>
<circle cx="926" cy="287.3" r="4.8"/>
<circle cx="933.4" cy="292.3" r="4.8"/>
<circle cx="940.6" cy="295.9" r="4.8"/>
<circle cx="947.9" cy="298.2" r="4.8"/>
<circle cx="932.2" cy="303.4" r="4.8"/>
<circle cx="936.1" cy="306.3" r="4.8"/>
<circle cx="931.2" cy="311.7" r="4.8"/>
<circle cx="934.8" cy="314.5" r="4.8"/>
<circle cx="938.3" cy="316.9" r="4.8"/>
<circle cx="941" cy="319.5" r="4.8"/>
<circle cx="946.4" cy="319.6" r="4.8"/>
<circle cx="938.1" cy="332.5" r="4.8"/>
<circle cx="955.4" cy="318.9" r="4.8"/>
<circle cx="960.6" cy="316" r="4.8"/>
<circle cx="954.6" cy="330.6" r="4.8"/>
<circle cx="958.6" cy="330.3" r="4.8"/>
<circle cx="960.1" cy="336.1" r="4.8"/>
<circle cx="967.5" cy="322.8" r="4.8"/>
<circle cx="968.8" cy="329.4" r="4.8"/>
<circle cx="971.2" cy="336.3" r="4.8"/>
<circle cx="974.7" cy="326.5" r="4.8"/>
<circle cx="979.2" cy="346.8" r="4.8"/>
<circle cx="982.2" cy="338.5" r="4.8"/>
<circle cx="987.5" cy="343.8" r="4.8"/>
<circle cx="987.5" cy="331" r="4.8"/>
<circle cx="986.2" cy="320.5" r="4.8"/>
<circle cx="996.6" cy="333.8" r="4.8"/>
<circle cx="993.3" cy="322.4" r="4.8"/>
<circle cx="987" cy="310.5" r="4.8"/>
<circle cx="998.3" cy="319.5" r="4.8"/>
<circle cx="997.7" cy="315.2" r="4.8"/>
<circle cx="996.2" cy="311" r="4.8"/>
<circle cx="1007.7" cy="314.9" r="4.8"/>
<circle cx="996.2" cy="305.9" r="4.8"/>
<circle cx="1014.1" cy="310.2" r="4.8"/>
<circle cx="1006.8" cy="304.5" r="4.8"/>
<circle cx="1010.2" cy="302.2" r="4.8"/>
<circle cx="1014.8" cy="299.4" r="4.8"/>
</g>
</g>
<text x="732.8" y="35.7" font-size="36.8" fill="#000">b</text>
<text x="885" y="34.5" font-size="25" fill="#000" textLength="142" lengthAdjust="spacingAndGlyphs">FWHM (cm</text>
<text x="1028" y="25" font-size="15" fill="#000" textLength="12" lengthAdjust="spacingAndGlyphs">-1</text>
<text x="1043" y="34.5" font-size="25" fill="#000">)</text>
<text x="940.6" y="64.7" font-size="22.5" fill="#3333cc" textLength="67" lengthAdjust="spacingAndGlyphs">&lt;110&gt;</text>
<text x="800.1" y="98.5" font-size="22.5" fill="#ff1a1a" textLength="67.5" lengthAdjust="spacingAndGlyphs">&lt;211&gt;</text>
<text x="1073.9" y="95.3" font-size="22.5" fill="#ff1a1a" textLength="67.2" lengthAdjust="spacingAndGlyphs">&lt;211&gt;</text>
<text x="714.4" y="186" font-size="22.5" fill="#3333cc" textLength="66.7" lengthAdjust="spacingAndGlyphs">&lt;110&gt;</text>
<text x="1170.2" y="186" font-size="22.5" fill="#3333cc" textLength="66.7" lengthAdjust="spacingAndGlyphs">&lt;110&gt;</text>
<text x="745.9" y="328.4" font-size="22.5" fill="#ff1a1a" textLength="67.2" lengthAdjust="spacingAndGlyphs" transform="rotate(-90 745.9 328.4)">&lt;211&gt;</text>
<text x="1225.2" y="328.4" font-size="22.5" fill="#ff1a1a" textLength="67.2" lengthAdjust="spacingAndGlyphs" transform="rotate(-90 1225.2 328.4)">&lt;211&gt;</text>
<text x="714.4" y="427.7" font-size="22.5" fill="#3333cc" textLength="66.7" lengthAdjust="spacingAndGlyphs">&lt;110&gt;</text>
<text x="1170.2" y="427.7" font-size="22.5" fill="#3333cc" textLength="66.7" lengthAdjust="spacingAndGlyphs">&lt;110&gt;</text>
<text x="801.4" y="512.2" font-size="22.5" fill="#ff1a1a" textLength="67.2" lengthAdjust="spacingAndGlyphs">&lt;211&gt;</text>
<text x="1070.2" y="512.2" font-size="22.5" fill="#ff1a1a" textLength="67.5" lengthAdjust="spacingAndGlyphs">&lt;211&gt;</text>
<text x="945.6" y="541" font-size="22.5" fill="#3333cc" textLength="67" lengthAdjust="spacingAndGlyphs">&lt;110&gt;</text>
<text x="1233.6" y="80" font-size="22.5" fill="#000" textLength="45.2" lengthAdjust="spacingAndGlyphs">4.70</text>
<text x="1233.6" y="124.1" font-size="22.5" fill="#000" textLength="45.2" lengthAdjust="spacingAndGlyphs">4.60</text>
<text x="1233.6" y="168.2" font-size="22.5" fill="#000" textLength="45.2" lengthAdjust="spacingAndGlyphs">4.50</text>
<text x="1233.6" y="212.3" font-size="22.5" fill="#000" textLength="45.2" lengthAdjust="spacingAndGlyphs">4.40</text>
<text x="1233.6" y="256.4" font-size="22.5" fill="#000" textLength="45.2" lengthAdjust="spacingAndGlyphs">4.30</text>
<text x="1233.6" y="300.5" font-size="22.5" fill="#000" textLength="45.2" lengthAdjust="spacingAndGlyphs">4.20</text>
<g id="pc">
<g fill="none" stroke="#1e1e1e" stroke-width="1.6">
<circle cx="262.9" cy="896" r="27.6"/>
<circle cx="262.9" cy="896" r="55.1"/>
<circle cx="262.9" cy="896" r="82.7"/>
<circle cx="262.9" cy="896" r="110.2"/>
<circle cx="262.9" cy="896" r="137.8"/>
<circle cx="262.9" cy="896" r="165.3"/>
<circle cx="262.9" cy="896" r="192.8"/>
<circle cx="262.9" cy="896" r="220.4"/>
<path d="M262.9 896L482.4 876.8M262.9 896L479.9 857.7M262.9 896L475.7 839M262.9 896L470 820.6M262.9 896L462.6 802.9M262.9 896L443.4 769.6M262.9 896L431.7 754.3M262.9 896L418.7 740.2M262.9 896L404.5 727.2M262.9 896L389.3 715.5M262.9 896L356 696.2M262.9 896L338.2 688.9M262.9 896L319.9 683.1M262.9 896L301.1 678.9M262.9 896L282.1 676.4M262.9 896L243.6 676.4M262.9 896L224.6 678.9M262.9 896L205.8 683.1M262.9 896L187.5 688.9M262.9 896L169.7 696.2M262.9 896L136.4 715.5M262.9 896L121.2 727.2M262.9 896L107 740.2M262.9 896L94 754.3M262.9 896L82.3 769.6M262.9 896L63.1 802.9M262.9 896L55.7 820.6M262.9 896L50 839M262.9 896L45.8 857.7M262.9 896L43.3 876.8M262.9 896L43.3 915.2M262.9 896L45.8 934.3M262.9 896L50 953M262.9 896L55.7 971.4M262.9 896L63.1 989.1M262.9 896L82.3 1022.4M262.9 896L94 1037.7M262.9 896L107 1051.8M262.9 896L121.2 1064.8M262.9 896L136.4 1076.5M262.9 896L169.7 1095.8M262.9 896L187.5 1103.1M262.9 896L205.8 1108.9M262.9 896L224.6 1113.1M262.9 896L243.6 1115.6M262.9 896L282.1 1115.6M262.9 896L301.1 1113.1M262.9 896L319.9 1108.9M262.9 896L338.2 1103.1M262.9 896L356 1095.8M262.9 896L373.1 1086.9M262.9 896L404.5 1064.8M262.9 896L418.7 1051.8M262.9 896L431.7 1037.7M262.9 896L443.4 1022.4M262.9 896L462.6 989.1M262.9 896L470 971.4M262.9 896L475.7 953M262.9 896L479.9 934.3M262.9 896L482.4 915.2"/>
</g>
<line x1="262.9" y1="896" x2="483.2" y2="896" stroke="#ff1414" stroke-width="2.7"/>
<line x1="262.9" y1="896" x2="453.7" y2="785.8" stroke="#2a2ad0" stroke-width="2.7"/>
<line x1="262.9" y1="896" x2="373.1" y2="705.1" stroke="#ff1414" stroke-width="2.7"/>
<line x1="262.9" y1="896" x2="262.9" y2="675.6" stroke="#2a2ad0" stroke-width="2.7"/>
<line x1="262.9" y1="896" x2="152.7" y2="705.1" stroke="#ff1414" stroke-width="2.7"/>
<line x1="262.9" y1="896" x2="72" y2="785.8" stroke="#2a2ad0" stroke-width="2.7"/>
<line x1="262.9" y1="896" x2="42.5" y2="896" stroke="#ff1414" stroke-width="2.7"/>
<line x1="262.9" y1="896" x2="72" y2="1006.2" stroke="#2a2ad0" stroke-width="2.7"/>
<line x1="262.9" y1="896" x2="152.6" y2="1086.9" stroke="#ff1414" stroke-width="2.7"/>
<line x1="262.9" y1="896" x2="262.8" y2="1116.4" stroke="#2a2ad0" stroke-width="2.7"/>
<line x1="262.9" y1="896" x2="389.3" y2="1076.5" stroke="#ff1414" stroke-width="2.7"/>
<line x1="262.9" y1="896" x2="453.7" y2="1006.2" stroke="#2a2ad0" stroke-width="2.7"/>
<path d="M387.9 896L393.7 884.5L387.4 874L376.4 865.6L374.2 855.5L358.1 851.6L354.7 843L358.7 828.9L342.1 829.5L326.8 832L319.5 828.5L319.8 814.7L320.7 795.8L317.5 778.7L310.3 765.7L303.2 745.3L288.9 748L275.9 747.4L262.9 742.9L249.7 745.9L237.3 751L225.8 757.9L214.5 763.2L209.1 780.6L190.3 770.3L197.9 803.2L190 809.1L195.8 829L188.9 834L182 839.4L170.2 842.5L144.4 840.8L139 850.9L124.7 859L126.5 871.9L128.3 884.2L131.8 896L128.4 907.8L131.8 919.1L127.3 932.3L132.3 943.5L140.6 953L152.5 959.7L164.3 965L180.1 965.4L185.4 973.4L191.6 980.9L191.6 997.8L189.2 1023.5L207.5 1014.6L217.7 1020L227.1 1029.3L242.5 1011.6L251.8 1022.5L262.9 1022.5L274.4 1028L284.1 1016.4L299.3 1032.1L306.6 1016.1L317.5 1013.2L329.5 1011.4L338.9 1004.6L340.9 989.1L346.5 979.7L353.2 971.8L359.5 963.7L365.6 955.4L374.2 947.9L391.8 942.9L394.1 931.2L396.3 919.5L387 906.9Z" fill="none" stroke="#2222e6" stroke-width="2.35" stroke-linejoin="round"/>
<g fill="#0000e6" stroke="#00006a" stroke-width="1.5">
<circle cx="387.9" cy="896" r="4.8"/>
<circle cx="393.7" cy="884.5" r="4.8"/>
<circle cx="387.4" cy="874" r="4.8"/>
<circle cx="376.4" cy="865.6" r="4.8"/>
<circle cx="374.2" cy="855.5" r="4.8"/>
<circle cx="358.1" cy="851.6" r="4.8"/>
<circle cx="354.7" cy="843" r="4.8"/>
<circle cx="358.7" cy="828.9" r="4.8"/>
<circle cx="342.1" cy="829.5" r="4.8"/>
<circle cx="326.8" cy="832" r="4.8"/>
<circle cx="319.5" cy="828.5" r="4.8"/>
<circle cx="319.8" cy="814.7" r="4.8"/>
<circle cx="320.7" cy="795.8" r="4.8"/>
<circle cx="317.5" cy="778.7" r="4.8"/>
<circle cx="310.3" cy="765.7" r="4.8"/>
<circle cx="303.2" cy="745.3" r="4.8"/>
<circle cx="288.9" cy="748" r="4.8"/>
<circle cx="275.9" cy="747.4" r="4.8"/>
<circle cx="262.9" cy="742.9" r="4.8"/>
<circle cx="249.7" cy="745.9" r="4.8"/>
<circle cx="237.3" cy="751" r="4.8"/>
<circle cx="225.8" cy="757.9" r="4.8"/>
<circle cx="214.5" cy="763.2" r="4.8"/>
<circle cx="209.1" cy="780.6" r="4.8"/>
<circle cx="190.3" cy="770.3" r="4.8"/>
<circle cx="197.9" cy="803.2" r="4.8"/>
<circle cx="190" cy="809.1" r="4.8"/>
<circle cx="195.8" cy="829" r="4.8"/>
<circle cx="188.9" cy="834" r="4.8"/>
<circle cx="182" cy="839.4" r="4.8"/>
<circle cx="170.2" cy="842.5" r="4.8"/>
<circle cx="144.4" cy="840.8" r="4.8"/>
<circle cx="139" cy="850.9" r="4.8"/>
<circle cx="124.7" cy="859" r="4.8"/>
<circle cx="126.5" cy="871.9" r="4.8"/>
<circle cx="128.3" cy="884.2" r="4.8"/>
<circle cx="131.8" cy="896" r="4.8"/>
<circle cx="128.4" cy="907.8" r="4.8"/>
<circle cx="131.8" cy="919.1" r="4.8"/>
<circle cx="127.3" cy="932.3" r="4.8"/>
<circle cx="132.3" cy="943.5" r="4.8"/>
<circle cx="140.6" cy="953" r="4.8"/>
<circle cx="152.5" cy="959.7" r="4.8"/>
<circle cx="164.3" cy="965" r="4.8"/>
<circle cx="180.1" cy="965.4" r="4.8"/>
<circle cx="185.4" cy="973.4" r="4.8"/>
<circle cx="191.6" cy="980.9" r="4.8"/>
<circle cx="191.6" cy="997.8" r="4.8"/>
<circle cx="189.2" cy="1023.5" r="4.8"/>
<circle cx="207.5" cy="1014.6" r="4.8"/>
<circle cx="217.7" cy="1020" r="4.8"/>
<circle cx="227.1" cy="1029.3" r="4.8"/>
<circle cx="242.5" cy="1011.6" r="4.8"/>
<circle cx="251.8" cy="1022.5" r="4.8"/>
<circle cx="262.9" cy="1022.5" r="4.8"/>
<circle cx="274.4" cy="1028" r="4.8"/>
<circle cx="284.1" cy="1016.4" r="4.8"/>
<circle cx="299.3" cy="1032.1" r="4.8"/>
<circle cx="306.6" cy="1016.1" r="4.8"/>
<circle cx="317.5" cy="1013.2" r="4.8"/>
<circle cx="329.5" cy="1011.4" r="4.8"/>
<circle cx="338.9" cy="1004.6" r="4.8"/>
<circle cx="340.9" cy="989.1" r="4.8"/>
<circle cx="346.5" cy="979.7" r="4.8"/>
<circle cx="353.2" cy="971.8" r="4.8"/>
<circle cx="359.5" cy="963.7" r="4.8"/>
<circle cx="365.6" cy="955.4" r="4.8"/>
<circle cx="374.2" cy="947.9" r="4.8"/>
<circle cx="391.8" cy="942.9" r="4.8"/>
<circle cx="394.1" cy="931.2" r="4.8"/>
<circle cx="396.3" cy="919.5" r="4.8"/>
<circle cx="387" cy="906.9" r="4.8"/>
</g>
<path d="M431.6 896L440.3 880.5L439.4 864.9L426.4 852.2L416.1 840.2L405.5 829.5L400.9 816.3L390.9 806.4L390.9 788.6L372.2 786.6L357.2 783.5L366.1 748.6L343 757.2L341.8 726.7L326.9 720.1L312.7 710.1L298.3 694.8L280.8 690.7L262.9 708L245.3 695.6L228.3 700.1L214.4 715.1L198.6 719.5L185.6 730.4L172.8 739.9L166.3 758.1L157.3 770.2L155.2 788.4L147.5 799.2L135.9 807.1L127.1 817.6L104.5 822.2L93.1 834.2L78.7 846.7L83.8 864.4L80.7 880.1L71.1 896L74.9 912.4L71.7 929.7L77.3 945.7L93.4 957.7L84.7 979.1L108.4 985.1L116.3 998.6L137.5 1001.2L146.2 1012.6L158.3 1020.6L162.9 1038.7L172.8 1052L182.3 1068.7L202.6 1061.6L215.7 1072.1L231.5 1073.8L248.2 1064L262.8 1075.7L278.3 1073.1L292.5 1063.9L310.7 1074.4L323.8 1063.5L341.8 1065.4L361.2 1066.3L369.1 1047.7L375.9 1030.7L382.3 1015.4L392.7 1005L405.3 995.7L408.3 980L414.5 966.7L427 955.8L448.6 945.8L444.7 928.1L448 912.2Z" fill="none" stroke="#19f2f2" stroke-width="2.35" stroke-linejoin="round"/>
<g fill="#00f0f0" stroke="#005a5a" stroke-width="1.5">
<circle cx="431.6" cy="896" r="4.8"/>
<circle cx="440.3" cy="880.5" r="4.8"/>
<circle cx="439.4" cy="864.9" r="4.8"/>
<circle cx="426.4" cy="852.2" r="4.8"/>
<circle cx="416.1" cy="840.2" r="4.8"/>
<circle cx="405.5" cy="829.5" r="4.8"/>
<circle cx="400.9" cy="816.3" r="4.8"/>
<circle cx="390.9" cy="806.4" r="4.8"/>
<circle cx="390.9" cy="788.6" r="4.8"/>
<circle cx="372.2" cy="786.6" r="4.8"/>
<circle cx="357.2" cy="783.5" r="4.8"/>
<circle cx="366.1" cy="748.6" r="4.8"/>
<circle cx="343" cy="757.2" r="4.8"/>
<circle cx="341.8" cy="726.7" r="4.8"/>
<circle cx="326.9" cy="720.1" r="4.8"/>
<circle cx="312.7" cy="710.1" r="4.8"/>
<circle cx="298.3" cy="694.8" r="4.8"/>
<circle cx="280.8" cy="690.7" r="4.8"/>
<circle cx="262.9" cy="708" r="4.8"/>
<circle cx="245.3" cy="695.6" r="4.8"/>
<circle cx="228.3" cy="700.1" r="4.8"/>
<circle cx="214.4" cy="715.1" r="4.8"/>
<circle cx="198.6" cy="719.5" r="4.8"/>
<circle cx="185.6" cy="730.4" r="4.8"/>
<circle cx="172.8" cy="739.9" r="4.8"/>
<circle cx="166.3" cy="758.1" r="4.8"/>
<circle cx="157.3" cy="770.2" r="4.8"/>
<circle cx="155.2" cy="788.4" r="4.8"/>
<circle cx="147.5" cy="799.2" r="4.8"/>
<circle cx="135.9" cy="807.1" r="4.8"/>
<circle cx="127.1" cy="817.6" r="4.8"/>
<circle cx="104.5" cy="822.2" r="4.8"/>
<circle cx="93.1" cy="834.2" r="4.8"/>
<circle cx="78.7" cy="846.7" r="4.8"/>
<circle cx="83.8" cy="864.4" r="4.8"/>
<circle cx="80.7" cy="880.1" r="4.8"/>
<circle cx="71.1" cy="896" r="4.8"/>
<circle cx="74.9" cy="912.4" r="4.8"/>
<circle cx="71.7" cy="929.7" r="4.8"/>
<circle cx="77.3" cy="945.7" r="4.8"/>
<circle cx="93.4" cy="957.7" r="4.8"/>
<circle cx="84.7" cy="979.1" r="4.8"/>
<circle cx="108.4" cy="985.1" r="4.8"/>
<circle cx="116.3" cy="998.6" r="4.8"/>
<circle cx="137.5" cy="1001.2" r="4.8"/>
<circle cx="146.2" cy="1012.6" r="4.8"/>
<circle cx="158.3" cy="1020.6" r="4.8"/>
<circle cx="162.9" cy="1038.7" r="4.8"/>
<circle cx="172.8" cy="1052" r="4.8"/>
<circle cx="182.3" cy="1068.7" r="4.8"/>
<circle cx="202.6" cy="1061.6" r="4.8"/>
<circle cx="215.7" cy="1072.1" r="4.8"/>
<circle cx="231.5" cy="1073.8" r="4.8"/>
<circle cx="248.2" cy="1064" r="4.8"/>
<circle cx="262.8" cy="1075.7" r="4.8"/>
<circle cx="278.3" cy="1073.1" r="4.8"/>
<circle cx="292.5" cy="1063.9" r="4.8"/>
<circle cx="310.7" cy="1074.4" r="4.8"/>
<circle cx="323.8" cy="1063.5" r="4.8"/>
<circle cx="341.8" cy="1065.4" r="4.8"/>
<circle cx="361.2" cy="1066.3" r="4.8"/>
<circle cx="369.1" cy="1047.7" r="4.8"/>
<circle cx="375.9" cy="1030.7" r="4.8"/>
<circle cx="382.3" cy="1015.4" r="4.8"/>
<circle cx="392.7" cy="1005" r="4.8"/>
<circle cx="405.3" cy="995.7" r="4.8"/>
<circle cx="408.3" cy="980" r="4.8"/>
<circle cx="414.5" cy="966.7" r="4.8"/>
<circle cx="427" cy="955.8" r="4.8"/>
<circle cx="448.6" cy="945.8" r="4.8"/>
<circle cx="444.7" cy="928.1" r="4.8"/>
<circle cx="448" cy="912.2" r="4.8"/>
</g>
<path d="M289.2 896L306.3 892.2L307.8 888.1L295.3 887.3L286.9 887.2L281.9 887.1L277.4 887.6L269.5 891.4L267.4 892.1L267.1 891.8L269.3 888.3L281.2 869.8L282.9 861.4L283.3 852.1L278.5 853.1L277.8 840.1L275.4 825L267.8 839L262.9 842.2L257.6 836.1L251.4 831.3L248 840.5L243.8 843.7L244.9 857.6L245.1 865.2L246.2 872.2L247.6 877.8L254.6 887.8L256.7 890.9L253 889.1L246.6 886.6L222.6 877.2L218.3 879.8L214.6 883.1L208.2 886.4L214.8 891.8L219.1 896L213.4 900.3L209.8 905.4L206.7 911L217.5 912.5L220.3 915.9L226 917.3L237.5 913.8L245.1 910.9L250.1 908.7L254 906.5L238.3 931.1L245.2 926.6L236.5 952.5L248.2 936.1L250.2 943.3L253.7 948.1L259.2 937.3L262.9 948.9L267.3 947.3L271.4 944.6L273.4 935.5L275.4 930.6L282.4 938L299.2 958.9L286.2 929.3L286.2 923.8L279.9 913L281.2 911.4L283.3 910.3L284.8 908.7L290 908.7L297 908.4L308.6 908.3L302.3 903L314.8 900.5Z" fill="none" stroke="#2ee62e" stroke-width="2.35" stroke-linejoin="round"/>
<g fill="#00f000" stroke="#005a00" stroke-width="1.5">
<circle cx="289.2" cy="896" r="4.8"/>
<circle cx="306.3" cy="892.2" r="4.8"/>
<circle cx="307.8" cy="888.1" r="4.8"/>
<circle cx="295.3" cy="887.3" r="4.8"/>
<circle cx="286.9" cy="887.2" r="4.8"/>
<circle cx="281.9" cy="887.1" r="4.8"/>
<circle cx="277.4" cy="887.6" r="4.8"/>
<circle cx="269.5" cy="891.4" r="4.8"/>
<circle cx="267.4" cy="892.1" r="4.8"/>
<circle cx="267.1" cy="891.8" r="4.8"/>
<circle cx="269.3" cy="888.3" r="4.8"/>
<circle cx="281.2" cy="869.8" r="4.8"/>
<circle cx="282.9" cy="861.4" r="4.8"/>
<circle cx="283.3" cy="852.1" r="4.8"/>
<circle cx="278.5" cy="853.1" r="4.8"/>
<circle cx="277.8" cy="840.1" r="4.8"/>
<circle cx="275.4" cy="825" r="4.8"/>
<circle cx="267.8" cy="839" r="4.8"/>
<circle cx="262.9" cy="842.2" r="4.8"/>
<circle cx="257.6" cy="836.1" r="4.8"/>
<circle cx="251.4" cy="831.3" r="4.8"/>
<circle cx="248" cy="840.5" r="4.8"/>
<circle cx="243.8" cy="843.7" r="4.8"/>
<circle cx="244.9" cy="857.6" r="4.8"/>
<circle cx="245.1" cy="865.2" r="4.8"/>
<circle cx="246.2" cy="872.2" r="4.8"/>
<circle cx="247.6" cy="877.8" r="4.8"/>
<circle cx="254.6" cy="887.8" r="4.8"/>
<circle cx="256.7" cy="890.9" r="4.8"/>
<circle cx="253" cy="889.1" r="4.8"/>
<circle cx="246.6" cy="886.6" r="4.8"/>
<circle cx="222.6" cy="877.2" r="4.8"/>
<circle cx="218.3" cy="879.8" r="4.8"/>
<circle cx="214.6" cy="883.1" r="4.8"/>
<circle cx="208.2" cy="886.4" r="4.8"/>
<circle cx="214.8" cy="891.8" r="4.8"/>
<circle cx="219.1" cy="896" r="4.8"/>
<circle cx="213.4" cy="900.3" r="4.8"/>
<circle cx="209.8" cy="905.4" r="4.8"/>
<circle cx="206.7" cy="911" r="4.8"/>
<circle cx="217.5" cy="912.5" r="4.8"/>
<circle cx="220.3" cy="915.9" r="4.8"/>
<circle cx="226" cy="917.3" r="4.8"/>
<circle cx="237.5" cy="913.8" r="4.8"/>
<circle cx="245.1" cy="910.9" r="4.8"/>
<circle cx="250.1" cy="908.7" r="4.8"/>
<circle cx="254" cy="906.5" r="4.8"/>
<circle cx="238.3" cy="931.1" r="4.8"/>
<circle cx="245.2" cy="926.6" r="4.8"/>
<circle cx="236.5" cy="952.5" r="4.8"/>
<circle cx="248.2" cy="936.1" r="4.8"/>
<circle cx="250.2" cy="943.3" r="4.8"/>
<circle cx="253.7" cy="948.1" r="4.8"/>
<circle cx="259.2" cy="937.3" r="4.8"/>
<circle cx="262.9" cy="948.9" r="4.8"/>
<circle cx="267.3" cy="947.3" r="4.8"/>
<circle cx="271.4" cy="944.6" r="4.8"/>
<circle cx="273.4" cy="935.5" r="4.8"/>
<circle cx="275.4" cy="930.6" r="4.8"/>
<circle cx="282.4" cy="938" r="4.8"/>
<circle cx="299.2" cy="958.9" r="4.8"/>
<circle cx="286.2" cy="929.3" r="4.8"/>
<circle cx="286.2" cy="923.8" r="4.8"/>
<circle cx="279.9" cy="913" r="4.8"/>
<circle cx="281.2" cy="911.4" r="4.8"/>
<circle cx="283.3" cy="910.3" r="4.8"/>
<circle cx="284.8" cy="908.7" r="4.8"/>
<circle cx="290" cy="908.7" r="4.8"/>
<circle cx="297" cy="908.4" r="4.8"/>
<circle cx="308.6" cy="908.3" r="4.8"/>
<circle cx="302.3" cy="903" r="4.8"/>
<circle cx="314.8" cy="900.5" r="4.8"/>
</g>
</g>
<text x="37.7" y="629.5" font-size="36.8" fill="#000">c</text>
<text x="138" y="627.8" font-size="25" fill="#000" textLength="235.5" lengthAdjust="spacingAndGlyphs">Intensity (Counts)</text>
<text x="229.9" y="666.7" font-size="22.5" fill="#3333cc" textLength="67" lengthAdjust="spacingAndGlyphs">&lt;110&gt;</text>
<text x="89.9" y="699" font-size="22.5" fill="#ff1a1a" textLength="67.2" lengthAdjust="spacingAndGlyphs">&lt;211&gt;</text>
<text x="363.1" y="698" font-size="22.5" fill="#ff1a1a" textLength="67.5" lengthAdjust="spacingAndGlyphs">&lt;211&gt;</text>
<text x="3.1" y="788.5" font-size="22.5" fill="#3333cc" textLength="67" lengthAdjust="spacingAndGlyphs">&lt;110&gt;</text>
<text x="459.4" y="787.8" font-size="22.5" fill="#3333cc" textLength="66.7" lengthAdjust="spacingAndGlyphs">&lt;110&gt;</text>
<text x="35.3" y="929.6" font-size="22.5" fill="#ff1a1a" textLength="67" lengthAdjust="spacingAndGlyphs" transform="rotate(-90 35.3 929.6)">&lt;211&gt;</text>
<text x="511" y="929.6" font-size="22.5" fill="#ff1a1a" textLength="66.7" lengthAdjust="spacingAndGlyphs" transform="rotate(-90 511 929.6)">&lt;211&gt;</text>
<text x="3.1" y="1029.5" font-size="22.5" fill="#3333cc" textLength="67" lengthAdjust="spacingAndGlyphs">&lt;110&gt;</text>
<text x="459.4" y="1029.5" font-size="22.5" fill="#3333cc" textLength="66.7" lengthAdjust="spacingAndGlyphs">&lt;110&gt;</text>
<text x="90.7" y="1114" font-size="22.5" fill="#ff1a1a" textLength="67.5" lengthAdjust="spacingAndGlyphs">&lt;211&gt;</text>
<text x="359.4" y="1114" font-size="22.5" fill="#ff1a1a" textLength="67.5" lengthAdjust="spacingAndGlyphs">&lt;211&gt;</text>
<text x="234.4" y="1143.2" font-size="22.5" fill="#3333cc" textLength="67.5" lengthAdjust="spacingAndGlyphs">&lt;110&gt;</text>
<text x="526.4" y="687" font-size="22.5" fill="#000" textLength="65.4" lengthAdjust="spacingAndGlyphs">13000</text>
<text x="526.4" y="738.4" font-size="22.5" fill="#000" textLength="65.4" lengthAdjust="spacingAndGlyphs">12000</text>
<text x="526.4" y="789.8" font-size="22.5" fill="#000" textLength="65.4" lengthAdjust="spacingAndGlyphs">11000</text>
<text x="526.4" y="841.2" font-size="22.5" fill="#000" textLength="65.4" lengthAdjust="spacingAndGlyphs">10000</text>
<text x="537.1" y="892.6" font-size="22.5" fill="#000" textLength="53" lengthAdjust="spacingAndGlyphs">9000</text>
<text x="732.5" y="629.3" font-size="36.8" fill="#000">d</text>
<defs><radialGradient id="sg" cx="0.5" cy="0.5" r="0.5" fx="0.36" fy="0.3"><stop offset="0" stop-color="#b8b8ff"/><stop offset="0.2" stop-color="#7c7cfa"/><stop offset="0.65" stop-color="#5a5af0"/><stop offset="0.9" stop-color="#4242d0"/><stop offset="1" stop-color="#2c2ca4"/></radialGradient><radialGradient id="sb" cx="0.5" cy="0.5" r="0.5" fx="0.36" fy="0.3"><stop offset="0" stop-color="#b4b4ff"/><stop offset="0.35" stop-color="#8484f4"/><stop offset="0.8" stop-color="#6464e2"/><stop offset="1" stop-color="#3a3ab0"/></radialGradient><clipPath id="dclip"><rect x="834.5" y="768.5" width="240" height="266"/></clipPath></defs>
<g id="pd">
<rect x="834.5" y="768.5" width="240.3" height="266.3" fill="#fff" stroke="#8e8e8e" stroke-width="1.5"/>
<g clip-path="url(#dclip)">
<circle cx="880.1" cy="825.5" r="24.3" fill="url(#sb)"/>
<circle cx="880.1" cy="877" r="24.3" fill="url(#sb)"/>
<circle cx="894.9" cy="851.2" r="24.3" fill="url(#sb)"/>
<circle cx="880.1" cy="928.4" r="24.3" fill="url(#sb)"/>
<circle cx="894.9" cy="902.7" r="24.3" fill="url(#sb)"/>
<circle cx="880.1" cy="979.9" r="24.3" fill="url(#sb)"/>
<circle cx="894.9" cy="954.1" r="24.3" fill="url(#sb)"/>
<circle cx="924.7" cy="851.2" r="24.3" fill="url(#sb)"/>
<circle cx="939.5" cy="825.5" r="24.3" fill="url(#sb)"/>
<circle cx="924.7" cy="902.7" r="24.3" fill="url(#sb)"/>
<circle cx="939.5" cy="877" r="24.3" fill="url(#sb)"/>
<circle cx="924.7" cy="954.1" r="24.3" fill="url(#sb)"/>
<circle cx="939.5" cy="928.4" r="24.3" fill="url(#sb)"/>
<circle cx="939.5" cy="979.9" r="24.3" fill="url(#sb)"/>
<circle cx="969.3" cy="825.5" r="24.3" fill="url(#sb)"/>
<circle cx="969.3" cy="877" r="24.3" fill="url(#sb)"/>
<circle cx="984.1" cy="851.2" r="24.3" fill="url(#sb)"/>
<circle cx="969.3" cy="928.4" r="24.3" fill="url(#sb)"/>
<circle cx="984.1" cy="902.7" r="24.3" fill="url(#sb)"/>
<circle cx="969.3" cy="979.9" r="24.3" fill="url(#sb)"/>
<circle cx="984.1" cy="954.1" r="24.3" fill="url(#sb)"/>
<circle cx="1013.9" cy="851.2" r="24.3" fill="url(#sb)"/>
<circle cx="1028.7" cy="825.5" r="24.3" fill="url(#sb)"/>
<circle cx="1013.9" cy="902.7" r="24.3" fill="url(#sb)"/>
<circle cx="1028.7" cy="877" r="24.3" fill="url(#sb)"/>
<circle cx="1013.9" cy="954.1" r="24.3" fill="url(#sb)"/>
<circle cx="1028.7" cy="928.4" r="24.3" fill="url(#sb)"/>
<circle cx="1028.7" cy="979.9" r="24.3" fill="url(#sb)"/>
<circle cx="903" cy="797" r="16.5" fill="url(#sb)"/>
<circle cx="989" cy="795.5" r="14" fill="url(#sb)"/>
<circle cx="1006" cy="800" r="10" fill="url(#sb)"/>
<circle cx="923" cy="803" r="9" fill="url(#sb)"/>
<circle cx="904" cy="1008.5" r="17" fill="url(#sb)"/>
<circle cx="988.5" cy="1008.5" r="17" fill="url(#sb)"/>
<circle cx="930" cy="1004" r="10" fill="url(#sb)"/>
<circle cx="975" cy="1004" r="10" fill="url(#sb)"/>
<circle cx="865.2" cy="799.8" r="25.8" fill="url(#sg)"/>
<circle cx="865.2" cy="851.2" r="25.8" fill="url(#sg)"/>
<circle cx="865.2" cy="902.7" r="25.8" fill="url(#sg)"/>
<circle cx="865.2" cy="954.1" r="25.8" fill="url(#sg)"/>
<circle cx="865.2" cy="1005.6" r="25.8" fill="url(#sg)"/>
<circle cx="909.8" cy="825.5" r="25.8" fill="url(#sg)"/>
<circle cx="909.8" cy="877" r="25.8" fill="url(#sg)"/>
<circle cx="909.8" cy="928.4" r="25.8" fill="url(#sg)"/>
<circle cx="909.8" cy="979.9" r="25.8" fill="url(#sg)"/>
<circle cx="954.4" cy="799.8" r="25.8" fill="url(#sg)"/>
<circle cx="954.4" cy="851.2" r="25.8" fill="url(#sg)"/>
<circle cx="954.4" cy="902.7" r="25.8" fill="url(#sg)"/>
<circle cx="954.4" cy="954.1" r="25.8" fill="url(#sg)"/>
<circle cx="954.4" cy="1005.6" r="25.8" fill="url(#sg)"/>
<circle cx="999" cy="825.5" r="25.8" fill="url(#sg)"/>
<circle cx="999" cy="877" r="25.8" fill="url(#sg)"/>
<circle cx="999" cy="928.4" r="25.8" fill="url(#sg)"/>
<circle cx="999" cy="979.9" r="25.8" fill="url(#sg)"/>
<circle cx="1043.6" cy="799.8" r="25.8" fill="url(#sg)"/>
<circle cx="1043.6" cy="851.2" r="25.8" fill="url(#sg)"/>
<circle cx="1043.6" cy="902.7" r="25.8" fill="url(#sg)"/>
<circle cx="1043.6" cy="954.1" r="25.8" fill="url(#sg)"/>
<circle cx="1043.6" cy="1005.6" r="25.8" fill="url(#sg)"/>
</g>
<line x1="950" y1="900.8" x2="950" y2="802.8" stroke="#2b2bb8" stroke-width="1.6"/>
<path d="M950 802.8L954.6 811.8L945.4 811.8Z" fill="#2b2bb8"/>
<line x1="950" y1="900.8" x2="1034.9" y2="851.8" stroke="#2b2bb8" stroke-width="1.6"/>
<path d="M1034.9 851.8L1029.4 860.3L1024.8 852.3Z" fill="#2b2bb8"/>
<line x1="950" y1="900.8" x2="865.1" y2="851.8" stroke="#2b2bb8" stroke-width="1.6"/>
<path d="M865.1 851.8L875.2 852.3L870.6 860.3Z" fill="#2b2bb8"/>
<line x1="950" y1="900.8" x2="865.1" y2="949.8" stroke="#2b2bb8" stroke-width="1.6"/>
<path d="M865.1 949.8L870.6 941.3L875.2 949.3Z" fill="#2b2bb8"/>
<line x1="950" y1="900.8" x2="950" y2="998.8" stroke="#2b2bb8" stroke-width="1.6"/>
<path d="M950 998.8L945.4 989.8L954.6 989.8Z" fill="#2b2bb8"/>
<line x1="950" y1="900.8" x2="1034.9" y2="949.8" stroke="#2b2bb8" stroke-width="1.6"/>
<path d="M1034.9 949.8L1024.8 949.3L1029.4 941.3Z" fill="#2b2bb8"/>
<path d="M917.3 999.6A101.35 102.85 0 1 1 982 999.6Z" fill="none" stroke="#000" stroke-width="5.6" stroke-linejoin="round"/>
<text x="951.4" y="894.6" font-size="23.5" fill="#fff" text-anchor="middle">Si</text>
<text x="951.4" y="922.6" font-size="21.6" fill="#fff" text-anchor="middle" textLength="54.8" lengthAdjust="spacingAndGlyphs">(111)</text>
<line x1="954.5" y1="900.8" x2="1041" y2="900.8" stroke="#ff1414" stroke-width="2.6"/>
<path d="M1050 900.8L1038 906.4L1038 895.2Z" fill="#ff1414"/>
<line x1="952.2" y1="896.9" x2="995.5" y2="822" stroke="#ff1414" stroke-width="2.6"/>
<path d="M1000 814.2L998.8 827.4L989.2 821.8Z" fill="#ff1414"/>
<line x1="947.8" y1="896.9" x2="904.5" y2="822" stroke="#ff1414" stroke-width="2.6"/>
<path d="M900 814.2L910.8 821.8L901.2 827.4Z" fill="#ff1414"/>
<line x1="945.5" y1="900.8" x2="859" y2="900.8" stroke="#ff1414" stroke-width="2.6"/>
<path d="M850 900.8L862 895.2L862 906.4Z" fill="#ff1414"/>
<line x1="947.8" y1="904.7" x2="904.5" y2="979.6" stroke="#ff1414" stroke-width="2.6"/>
<path d="M900 987.4L901.2 974.2L910.8 979.8Z" fill="#ff1414"/>
<line x1="952.2" y1="904.7" x2="995.5" y2="979.6" stroke="#ff1414" stroke-width="2.6"/>
<path d="M1000 987.4L989.2 979.8L998.8 974.2Z" fill="#ff1414"/>
<path d="M947 955A54.4 54.4 0 1 1 989.3 937" fill="none" stroke="#ff1414" stroke-width="2.6"/>
<path d="M982 943.8L994.5 939.6L986 932.3Z" fill="#ff1414"/>
</g>
<text x="915.6" y="786" font-size="20" fill="#000" textLength="66.8" lengthAdjust="spacingAndGlyphs">&lt;110&gt;</text>
<text x="831.6" y="809.7" font-size="20" fill="#000" textLength="66.2" lengthAdjust="spacingAndGlyphs">&lt;211&gt;</text>
<text x="999.6" y="809.7" font-size="20" fill="#000" textLength="66" lengthAdjust="spacingAndGlyphs">&lt;211&gt;</text>
<text x="784.4" y="856.5" font-size="20" fill="#000" textLength="66.5" lengthAdjust="spacingAndGlyphs">&lt;110&gt;</text>
<text x="1050.7" y="856.5" font-size="20" fill="#000" textLength="66.5" lengthAdjust="spacingAndGlyphs">&lt;110&gt;</text>
<text x="773.8" y="907.3" font-size="20" fill="#000" textLength="66.5" lengthAdjust="spacingAndGlyphs">&lt;211&gt;</text>
<text x="1066" y="907.3" font-size="20" fill="#000" textLength="66" lengthAdjust="spacingAndGlyphs">&lt;211&gt;</text>
<text x="784.4" y="963" font-size="20" fill="#000" textLength="66.5" lengthAdjust="spacingAndGlyphs">&lt;110&gt;</text>
<text x="1050.9" y="963" font-size="20" fill="#000" textLength="66.3" lengthAdjust="spacingAndGlyphs">&lt;110&gt;</text>
<text x="839.1" y="1013.4" font-size="20" fill="#000" textLength="66.5" lengthAdjust="spacingAndGlyphs">&lt;211&gt;</text>
<text x="997.8" y="1012.4" font-size="20" fill="#000" textLength="66.8" lengthAdjust="spacingAndGlyphs">&lt;211&gt;</text>
<text x="919.1" y="1028.7" font-size="20" fill="#000" textLength="66.8" lengthAdjust="spacingAndGlyphs">&lt;110&gt;</text>
</svg></body></html>
